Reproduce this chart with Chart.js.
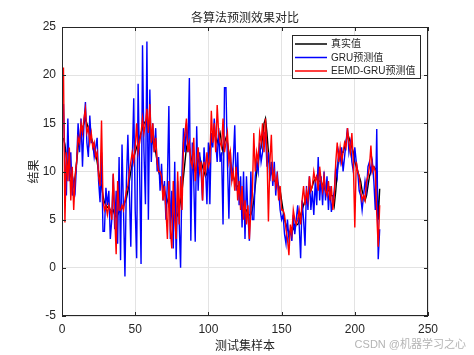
<!DOCTYPE html>
<html><head><meta charset="utf-8">
<script src="https://cdn.jsdelivr.net/npm/chart.js@4"></script>
<style>html,body{margin:0;padding:0;background:#fff;}canvas{display:block;}</style>
</head><body>
<canvas id="c" width="474" height="355"></canvas>
<script>
const titleText = '各算法预测效果对比';
const xTitle = '测试集样本';
const yTitle = '结果';
const seriesNames = ['真实值', 'GRU预测值', 'EEMD-GRU预测值'];
const xTicks = [0, 50, 100, 150, 200, 250];
const yTicks = [-5, 0, 5, 10, 15, 20, 25];

const trueVals = [
13.5,12.8,11.5,10.5,10,9.5,9,8.5,9.5,11,
12.5,13.5,14,14.5,15,15.5,15,14.5,14,13.5,
13,12.5,12,11,10,9,8.5,7.5,6.8,6.5,
6.3,6.2,6,5.8,6,5.5,5.3,5.5,5.8,6,
6.2,6.5,6.8,7.2,8,9,10,10.8,11.5,12,
12.5,13,13.5,14,14.5,15,15.2,15,14.5,14,
13.5,13,12.5,12,11,10,9.5,9,8.5,8,
7.5,7,6.5,6,5.5,5,5,5.2,5.5,6,
7,8,9.5,11,12.5,13,12.5,11.5,11,10.5,
10,10.5,11,11.5,11,10.5,10,9.5,9.8,11,
12.5,13.5,14,14,13.5,13,13.5,14,13,12,
13,13.5,13,12,11,10,9.5,9,8.5,8.5,
8,7.5,7,6.5,6,6,5.5,5.5,5.5,6,
7,8.5,10,11,12,12.5,13.5,15,15.5,14,
12,10.5,10,9.5,9,9,9,8.5,8,7,
6,5,4.5,4,3.8,3.6,3.8,4,4.5,4.5,
4.5,4.8,5.5,6,6.5,7,7.5,7.5,7.8,8,
8.5,9,9.2,9.5,9,9,9,8.5,8.5,8,
8,8,8,7.5,7.5,6.5,8,10,11.5,12,
12,12,12.5,13,14,13.5,13,12.5,12,11,
10.5,10,9.5,9,8,7.5,7,7.5,8.5,9.5,
10,10.5,10.5,10.3,10,5,8.2];

const gruVals = [
17,11,7.5,15.5,9,12,7.5,9,8,11,
15,12,15.5,10.5,15,17.2,13,11.5,15.8,13,
13,11.5,12.5,13.5,9,6.8,12,3.8,3.8,8.3,
6.5,8,3,5,9.7,4,8,2.5,11.5,0.8,
12.8,6,-0.9,9,13.8,8,2.2,11,17.6,6,
1.0,19.1,10,0.4,23.1,12,6.6,23.5,5.0,18.5,
11,15,12,14.5,10,11.5,8,10.8,7,9,
5,9,16.8,3,8,2,11,0.9,9,5,
0.0,10,14.5,12,15,12,19.7,2.8,13,9,
2.7,14.7,8,12,10,7,12.5,10.5,6.6,13,
6.6,14,12.5,15.5,13,11,14.5,11,12,4.5,
18.7,18.7,11,5.1,12,9,11,14.8,8,12,
6.5,9.5,4.2,10,3,9.5,5.5,2.8,10,5,
5,9.5,11,10,13,11,12,14,14,10.5,
12,9,11,8.5,11,7.5,10,8,6,5,
5.5,3.5,2.5,5,3,4,2.8,5.5,3.5,5,
6.5,4.5,1.0,7,5,2.3,8.5,6,9.5,6,
8,5.5,9,6.5,11.5,7,9.5,6.5,10,7,
9.5,6,8.5,5.8,7,8,10.5,9.5,12,11,
12.5,10,11.5,13,14.5,12,13,11,10,12.5,
11,10,8,7.5,6,7.5,9,8,10.5,11,
10,11,9,6,14.4,0.9,4];

const eemdVals = [
20.8,4.7,12,9,12.5,7,10.5,6,9.5,11,
13.5,13,15,14,15.5,16.5,14,14.5,13,14,
12.5,13,11.5,12,9.5,8.5,15.3,7,6,6.5,
5.5,6.5,6,5,9.8,5.5,1.4,9,6,6,
6.5,6,7,8,8.5,10,11,12,11,12.5,
15,12,13,14,15.5,14,15,16.5,14,17,
13,15,12,13.5,11,10,10,9.5,7,8.5,
6,3,9,4,2,9,5,3,10,4.5,
9.5,6,13,14,15.5,12,13,11,10.5,13.5,
9,11,12.5,10,11,7,11,10,12,10.5,
11,16.3,13,15,12,16.9,14,13,12.5,15.5,
12,13,14,11,12,9,10,8,10.5,7,
9,6,8.5,5,7,4.5,6.5,3,6,7.5,
14,10,12,11,14,13,15,12,15.5,12,
4.8,11,13.8,9,10,8.5,9.5,7,8.5,6,
6,5.5,4,3,1.3,4.5,3.5,6,5,4.5,
5,6,4.5,7,8.5,6.5,8,7,9.5,8,
8.5,10,9,9.5,8,10.5,9,8,9.5,8,
7.5,9,7,8.5,6,7.5,11,13,11,12.5,
11,12,13,12.5,14.5,13,12,14,11,4.2,
11,10,9.5,8,7,7.5,7,9,9.5,10.5,
12.7,10,10.5,10,5.5,2.2,6.5];

const colors = ['#000000', '#0000ff', '#ff0000'];
const toPts = arr => arr.map((v, i) => ({x: i + 1, y: v}));

const overlay = {
  id: 'overlay',
  afterDraw(chart) {
    const c = chart.ctx, a = chart.chartArea;
    c.save();
    c.strokeStyle = '#262626'; c.lineWidth = 1;
    c.strokeRect(a.left + 0.5, a.top + 0.5, a.right - a.left - 1, a.bottom - a.top - 1);
    const xs = chart.scales.x, ys = chart.scales.y;
    c.beginPath();
    xTicks.forEach(t => { const px = Math.round(xs.getPixelForValue(t)) + 0.5;
      c.moveTo(px, a.bottom); c.lineTo(px, a.bottom - 4); c.moveTo(px, a.top); c.lineTo(px, a.top + 4); });
    yTicks.forEach(t => { const py = Math.round(ys.getPixelForValue(t)) + 0.5;
      c.moveTo(a.left, py); c.lineTo(a.left + 4, py); c.moveTo(a.right, py); c.lineTo(a.right - 4, py); });
    c.stroke();
    c.fillStyle = '#262626';
    c.font = '12px "Noto Sans CJK SC"';
    c.textAlign = 'center'; c.textBaseline = 'middle';
    c.fillText(titleText, (a.left + a.right) / 2, 17);
    c.fillText(xTitle, (a.left + a.right) / 2, 345);
    c.save(); c.translate(33, (a.top + a.bottom) / 2); c.rotate(-Math.PI / 2);
    c.fillText(yTitle, 0, 0); c.restore();
    const lx = 292, ly = 35, lw = 128, lh = 43;
    c.fillStyle = '#fff'; c.fillRect(lx, ly, lw, lh);
    c.strokeStyle = '#262626'; c.strokeRect(lx + 0.5, ly + 0.5, lw, lh);
    c.textAlign = 'left';
    seriesNames.forEach((n, k) => {
      const y = 44 + k * 13.5;
      c.strokeStyle = colors[k]; c.lineWidth = 1.5;
      c.beginPath(); c.moveTo(295, y); c.lineTo(327, y); c.stroke();
      c.fillStyle = '#262626';
      c.font = '10px "Liberation Sans", "Noto Sans CJK SC"';
      c.fillText(n, 331, y + 0.5);
    });
    c.fillStyle = '#b4b4b4'; c.font = '11px "Liberation Sans", "Noto Sans CJK SC"';
    c.textAlign = 'right';
    c.fillText('CSDN @机器学习之心', 466, 345);
    c.restore();
  }
};

new Chart(document.getElementById('c'), {
  type: 'line',
  data: {
    datasets: [
      {label: seriesNames[0], data: toPts(trueVals), borderColor: colors[0], order: 2},
      {label: seriesNames[1], data: toPts(gruVals), borderColor: colors[1], order: 1},
      {label: seriesNames[2], data: toPts(eemdVals), borderColor: colors[2], order: 0}
    ]
  },
  options: {
    responsive: false, animation: false,
    elements: {point: {radius: 0}, line: {borderWidth: 1.4, tension: 0}},
    layout: {padding: {top: 27, right: 46, left: 0, bottom: 0}},
    plugins: {legend: {display: false}, tooltip: {enabled: false}, title: {display: false}},
    scales: {
      x: {type: 'linear', min: 0, max: 250,
        afterBuildTicks: s => { s.ticks = xTicks.map(v => ({value: v})); },
        afterFit: s => { s.height = 39; },
        grid: {color: '#e3e3e3', drawTicks: false},
        border: {display: false},
        ticks: {padding: 6, color: '#262626', font: {family: '"Liberation Sans"', size: 12}, maxRotation: 0}},
      y: {type: 'linear', min: -5, max: 25,
        afterBuildTicks: s => { s.ticks = yTicks.map(v => ({value: v})); },
        afterFit: s => { s.width = 62; },
        grid: {color: '#e3e3e3', drawTicks: false},
        border: {display: false},
        ticks: {padding: 6, color: '#262626', font: {family: '"Liberation Sans"', size: 12}}}
    }
  },
  plugins: [overlay]
});
</script>
</body></html>
